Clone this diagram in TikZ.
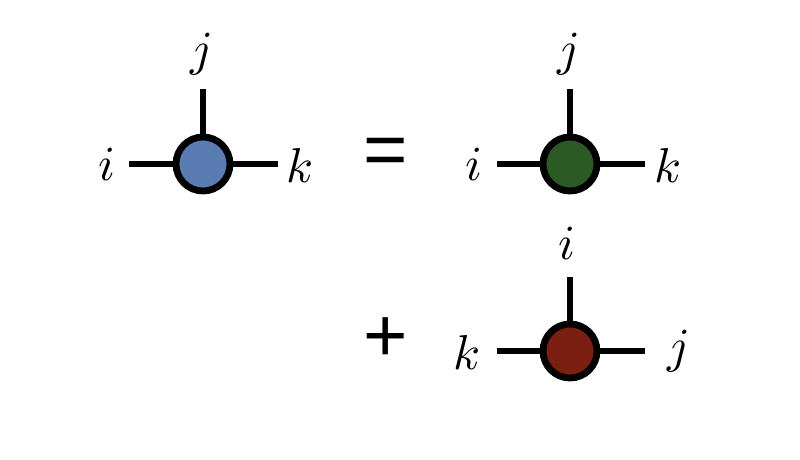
\documentclass[tikz,border=0pt]{standalone}
\usepackage{fontspec}
\usepackage{tikz}
\usetikzlibrary{calc}
\newfontfamily\signfont{Liberation Sans}
\definecolor{tblue}{HTML}{5B7BB3}
\definecolor{tgreen}{HTML}{2B5A24}
\definecolor{tred}{HTML}{7B1F12}
\tikzset{
  leg/.style={line width=6.8pt, draw=black},
  tensor/.style={circle, draw=black, line width=6.8pt, minimum size=54pt, inner sep=0pt},
  idx/.style={scale=4.9, inner sep=0pt},
  sign/.style={font=\signfont\fontsize{76}{80}\selectfont, inner sep=0pt}
}
\begin{document}
\begin{tikzpicture}[x=1pt,y=-1pt]
  \useasboundingbox (0,0) rectangle (800,460);

  % left hand side
  \node[tensor, fill=tblue] (A) at (203,164) {};
  \coordinate (Ai) at (129,164);
  \coordinate (Ak) at (278,164);
  \coordinate (Aj) at (203,89);
  \draw[leg] (Ai) -- (A.west);
  \draw[leg] (A.east) -- (Ak);
  \draw[leg] (Aj) -- (A.north);
  \node[idx] (Ajl) at (202,54) {$j$};
  \node[idx] (Ail) at (107,164) {$i$};
  \node[idx] (Akl) at (300,165) {$k$};

  \node[sign] (eq) at (386,157) {=};

  % first term
  \node[tensor, fill=tgreen] (B) at (570,164) {};
  \coordinate (Bi) at (497,164);
  \coordinate (Bk) at (645,164);
  \coordinate (Bj) at (570,89);
  \draw[leg] (Bi) -- (B.west);
  \draw[leg] (B.east) -- (Bk);
  \draw[leg] (Bj) -- (B.north);
  \node[idx] (Bjl) at (569,54) {$j$};
  \node[idx] (Bil) at (474,164) {$i$};
  \node[idx] (Bkl) at (668,165) {$k$};

  \node[sign] (plus) at (386,340) {+};

  % second term
  \node[tensor, fill=tred] (C) at (570,351) {};
  \coordinate (Ck) at (497,351);
  \coordinate (Cj) at (645,351);
  \coordinate (Ci) at (570,277);
  \draw[leg] (Ck) -- (C.west);
  \draw[leg] (C.east) -- (Cj);
  \draw[leg] (Ci) -- (C.north);
  \node[idx] (Cil) at (567,243) {$i$};
  \node[idx] (Ckl) at (467,352) {$k$};
  \node[idx] (Cjl) at (679,351) {$j$};
\end{tikzpicture}
\end{document}
